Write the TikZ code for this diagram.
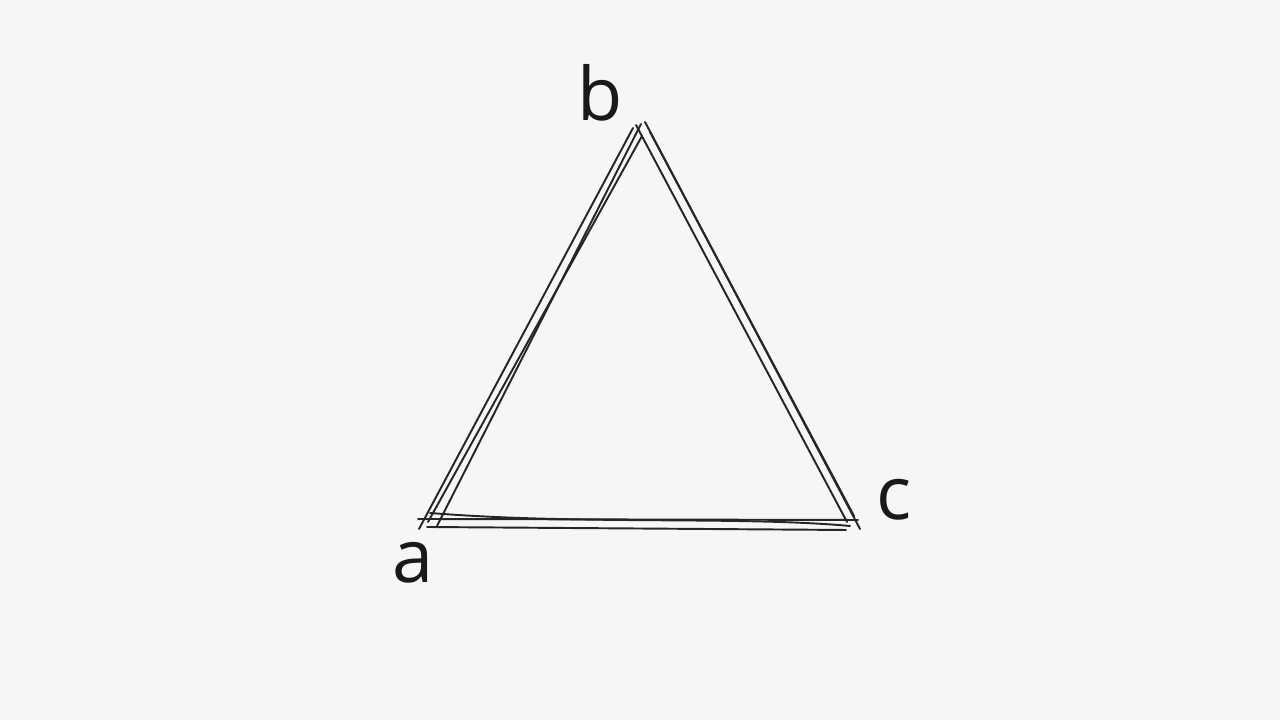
\documentclass[tikz,border=0pt]{standalone}
\usepackage{fontspec}
\setmainfont{Open Sans}

\tikzset{
  sketch/.style={line width=0.55pt, draw=black!85, line cap=round},
  vlabel/.style={font=\fontsize{21}{24}\selectfont, text=black!90, inner sep=0pt}
}

\begin{document}
\begin{tikzpicture}
      \fill[black!3.5] (0,0) rectangle (12.8,7.2);
      \useasboundingbox (0,0) rectangle (12.8,7.2);

      % Corners
      \coordinate (a) at (4.25, 2.00);
      \coordinate (b) at (6.40, 5.90);
      \coordinate (c) at (8.52, 1.98);

      \node[vlabel] (la) at (4.13, 1.57) {a};
      \node[vlabel] (lb) at (6.00, 6.27) {b};
      \node[vlabel] (lc) at (8.94, 2.20) {c};

      % Left side
      \draw[sketch] ([shift={(-0.06,-0.09)}]a) -- ([shift={(-0.07,0.02)}]b);
      \draw[sketch] ([shift={(0.03,-0.02)}]a) -- ([shift={(0.02,-0.06)}]b);
      \draw[sketch] ([shift={(0.12,-0.06)}]a) -- ([shift={(0.01,0.06)}]b);

      % Right side
      \draw[sketch] ([shift={(0.05,0.08)}]b) -- ([shift={(0.08,-0.07)}]c);
      \draw[sketch] ([shift={(-0.04,0.05)}]b) -- ([shift={(-0.05,0.00)}]c);
      \draw[sketch] ([shift={(0.10,-0.02)}]b) -- ([shift={(0.02,0.06)}]c);

      % Bottom side
      \draw[sketch] ([shift={(-0.07,0.01)}]a) -- ([shift={(0.06,0.02)}]c);
      \draw[sketch] ([shift={(0.05,0.07)}]a) .. controls (5.8,1.95) and (7.4,2.04) .. ([shift={(-0.02,-0.04)}]c);
      \draw[sketch] ([shift={(0.02,-0.07)}]a) -- ([shift={(-0.06,-0.08)}]c);
\end{tikzpicture}
\end{document}
